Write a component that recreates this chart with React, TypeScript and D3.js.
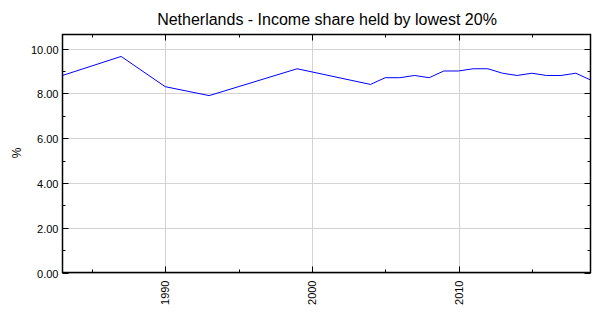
import React from "react";
import * as d3 from "d3";

const years = [1983, 1987, 1990, 1993, 1999, 2004, 2005, 2006, 2007, 2008, 2009, 2010, 2011, 2012, 2013, 2014, 2015, 2016, 2017, 2018, 2019];
const values = [8.8, 9.65, 8.3, 7.9, 9.1, 8.4, 8.7, 8.7, 8.8, 8.7, 9.0, 9.0, 9.1, 9.1, 8.9, 8.8, 8.9, 8.8, 8.8, 8.9, 8.6];
const yTicks = [0, 2, 4, 6, 8, 10];
const yMinor = [1, 3, 5, 7, 9];
const xTicks = [1990, 2000, 2010];
const xMinor = [1985, 1995, 2005, 2015];
const title = "Netherlands - Income share held by lowest 20%";
const yLabel = "%";

const W = 600, H = 315;
const L = 62.5, R = 590.5, T = 34.5, B = 272.5;

export default function App() {
  const x = d3.scaleLinear().domain([1983, 2019]).range([L, R]);
  const y = d3.scaleLinear().domain([0, 10.63]).range([B, T]);
  const line = d3.line<number>().x((_, i) => x(years[i])).y((d) => y(d));
  const font = "'Liberation Sans', Arial, sans-serif";
  return (
    <svg width={W} height={H} style={{ position: "absolute", left: 0, top: 0 }}>
      <rect width={W} height={H} fill="#fff" />
      <text x={327} y={25} textAnchor="middle" fontFamily={font} fontSize={16} fill="#000">{title}</text>
      {yTicks.map((t) => (
        <line key={"gy" + t} x1={L} x2={R} y1={Math.round(y(t)) + 0.5} y2={Math.round(y(t)) + 0.5} stroke="#d3d3d3" />
      ))}
      {xTicks.map((t) => (
        <line key={"gx" + t} x1={Math.round(x(t)) + 0.5} x2={Math.round(x(t)) + 0.5} y1={T} y2={B} stroke="#d3d3d3" />
      ))}
      <path d={line(values) || ""} fill="none" stroke="#0000ff" strokeWidth={1} />
      <rect x={L} y={T} width={R - L} height={B - T} fill="none" stroke="#000" strokeWidth={1.5} />
      {yTicks.map((t) => {
        const yy = Math.round(y(t)) + 0.5;
        return (
          <g key={"ty" + t}>
            <line x1={L} x2={L + 6} y1={yy} y2={yy} stroke="#000" />
            <line x1={R - 6} x2={R} y1={yy} y2={yy} stroke="#000" />
            <text x={L - 4} y={yy + 4} textAnchor="end" fontFamily={font} fontSize={11} fill="#000">{t.toFixed(2)}</text>
          </g>
        );
      })}
      {yMinor.map((t) => {
        const yy = Math.round(y(t)) + 0.5;
        return (
          <g key={"my" + t}>
            <line x1={L} x2={L + 3} y1={yy} y2={yy} stroke="#000" />
            <line x1={R - 3} x2={R} y1={yy} y2={yy} stroke="#000" />
          </g>
        );
      })}
      {xTicks.map((t) => {
        const xx = Math.round(x(t)) + 0.5;
        return (
          <g key={"tx" + t}>
            <line x1={xx} x2={xx} y1={B} y2={B - 6} stroke="#000" />
            <line x1={xx} x2={xx} y1={T} y2={T + 6} stroke="#000" />
            <text transform={`translate(${xx + 3},${B + 8}) rotate(-90)`} textAnchor="end" fontFamily={font} fontSize={11} fill="#000">{t}</text>
          </g>
        );
      })}
      {xMinor.map((t) => {
        const xx = Math.round(x(t)) + 0.5;
        return (
          <g key={"mx" + t}>
            <line x1={xx} x2={xx} y1={B} y2={B - 3} stroke="#000" />
            <line x1={xx} x2={xx} y1={T} y2={T + 3} stroke="#000" />
          </g>
        );
      })}
      <text transform={`translate(21,153) rotate(-90)`} textAnchor="middle" fontFamily={font} fontSize={12} fill="#000">{yLabel}</text>
    </svg>
  );
}
